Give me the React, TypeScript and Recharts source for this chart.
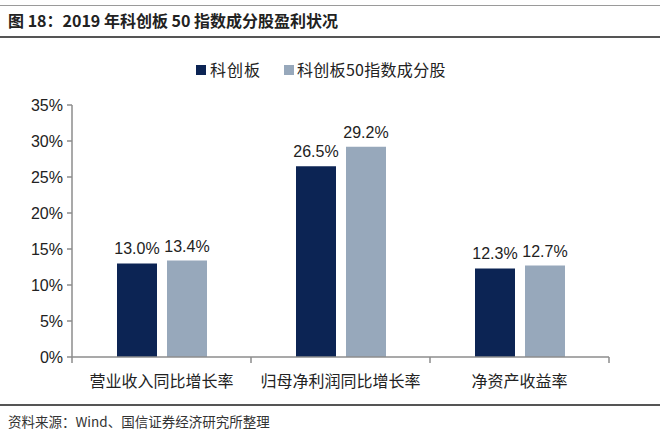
import React from "react";
import { BarChart, Bar, XAxis, YAxis, LabelList } from "recharts";

const categories = ["营业收入同比增长率", "归母净利润同比增长率", "净资产收益率"];
const kcb = [0.13, 0.265, 0.123];
const kc50 = [0.134, 0.292, 0.127];
const yTicks = [0, 0.05, 0.1, 0.15, 0.2, 0.25, 0.3, 0.35];
const seriesNames = ["科创板", "科创板50指数成分股"];

const data = categories.map((c, i) => ({ name: c, a: kcb[i], b: kc50[i] }));

const DARK = "#0C2454";
const LIGHT = "#97A8BB";
const AXIS = "#8c8c8c";
const CJK = '"Noto Sans CJK SC", sans-serif';
const LAT = '"Liberation Sans", Arial, sans-serif';

const pct1 = (v: any) => (v * 100).toFixed(1) + "%";

const CatTick = (props: any) => {
  const { x, y, payload, width, index } = props;
  const half = payload && payload.offset ? payload.offset : width / categories.length / 2;
  const last = index === categories.length - 1;
  return (
    <g>
      <line x1={x - half} x2={x - half} y1={y} y2={y + 6} stroke={AXIS} strokeWidth={1.5} />
      {last && <line x1={x + half} x2={x + half} y1={y} y2={y + 6} stroke={AXIS} strokeWidth={1.5} />}
      <text x={x} y={y + 30} textAnchor="middle" fontFamily={CJK} fontSize={16} fill="#222">
        {payload.value}
      </text>
    </g>
  );
};

export default function App() {
  return (
    <div style={{ position: "absolute", left: 0, top: 0, width: 660, height: 431, background: "#fff", overflow: "hidden" }}>
      <div style={{ position: "absolute", left: 0, top: 5, width: 660, height: 1, background: "#9a9a9a" }} />
      <div style={{ position: "absolute", left: 8, top: 8, fontFamily: CJK, fontWeight: "bold", fontSize: 16, color: "#222", whiteSpace: "nowrap", letterSpacing: 0 }}>
        图 18：2019 年科创板 50 指数成分股盈利状况
      </div>
      <div style={{ position: "absolute", left: 0, top: 36, width: 660, height: 1.5, background: "#555" }} />
      {/* legend */}
      <div style={{ position: "absolute", left: 196, top: 65, width: 10, height: 10, background: DARK }} />
      <div style={{ position: "absolute", left: 210, top: 57, fontFamily: CJK, fontSize: 16, color: "#222", whiteSpace: "nowrap", letterSpacing: 1 }}>{seriesNames[0]}</div>
      <div style={{ position: "absolute", left: 284, top: 65, width: 10, height: 10, background: LIGHT }} />
      <div style={{ position: "absolute", left: 297, top: 57, fontFamily: CJK, fontSize: 16, color: "#222", whiteSpace: "nowrap", letterSpacing: 0.3 }}>{seriesNames[1]}</div>

      <div style={{ position: "absolute", left: 0, top: 0 }}>
        <BarChart
          width={660}
          height={431}
          data={data}
          margin={{ top: 105, right: 51, bottom: 0, left: 12 }}
          barSize={40}
          barGap={10}
        >
          <XAxis
            dataKey="name"
            height={74}
            axisLine={{ stroke: AXIS, strokeWidth: 1.5 }}
            tickLine={false}
            tickSize={0}
            tickMargin={0}
            interval={0}
            tick={<CatTick />}
          />
          <YAxis
            width={60}
            domain={[0, 0.35]}
            ticks={yTicks}
            interval={0}
            tickFormatter={(v: number) => Math.round(v * 100) + "%"}
            axisLine={{ stroke: AXIS, strokeWidth: 1.5 }}
            tickLine={{ stroke: AXIS, strokeWidth: 1.5 }}
            tickSize={5}
            tickMargin={4}
            tick={{ fontFamily: LAT, fontSize: 16, fill: "#222" }}
          />
          <Bar dataKey="a" fill={DARK} isAnimationActive={false}>
            <LabelList dataKey="a" position="top" offset={9} formatter={pct1} style={{ fontFamily: LAT, fontSize: 16, fill: "#222" }} />
          </Bar>
          <Bar dataKey="b" fill={LIGHT} isAnimationActive={false}>
            <LabelList dataKey="b" position="top" offset={9} formatter={pct1} style={{ fontFamily: LAT, fontSize: 16, fill: "#222" }} />
          </Bar>
        </BarChart>
      </div>

      <div style={{ position: "absolute", left: 0, top: 404, width: 660, height: 1.5, background: "#555" }} />
      <div style={{ position: "absolute", left: 8, top: 411, fontFamily: CJK, fontSize: 13.5, color: "#333", whiteSpace: "nowrap" }}>
        资料来源：Wind、国信证券经济研究所整理
      </div>
    </div>
  );
}
